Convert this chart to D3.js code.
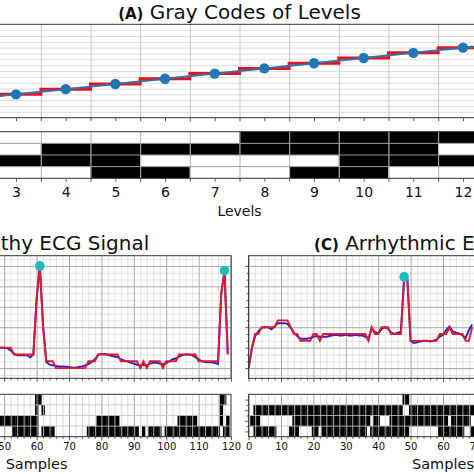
<!DOCTYPE html>
<html>
<head>
<meta charset="utf-8">
<script src="https://cdn.jsdelivr.net/npm/d3@7"></script>
<style>
  body { margin: 0; background: #fff; }
  text { font-family: "DejaVu Sans", sans-serif; }
</style>
</head>
<body>
<script>
// ---- data ----
const levels = [0, 1, 2, 3, 4, 5, 6, 7, 8, 9, 10, 11, 12, 13, 14, 15];
const grayCodes = ["0000", "0001", "0011", "0010", "0110", "0111", "0101", "0100",
                   "1100", "1101", "1111", "1110", "1010", "1011", "1001", "1000"];
const levelGrid = [-0.375, 0.75, 1.875, 3, 4.125, 5.25, 6.375, 7.5, 8.625, 9.75,
                   10.875, 12, 13.125, 14.25, 15.375];

// healthy ECG (samples 48..119 visible)
const healthyStart = 48;
const healthyLevels = [3, 3, 3, 3, 3,
  2, 2, 2, 2, 2, 2, 2,
  10, 15, 6,
  1, 1, 1,
  0, 0, 0, 0, 0, 0, 0, 0, 0, 0,
  1, 1, 1,
  2, 2, 2, 2, 2, 2, 2,
  1, 1, 1, 1, 1, 1,
  0, 1, 0,
  1, 1, 1, 1,
  0,
  1, 1, 1, 1,
  2, 2, 2, 2, 2, 2,
  1, 1, 1, 1, 1, 1, 1,
  11, 14, 2];
const healthySignal = [2.9, 3.0, 3.0, 2.9, 2.6,
  2.1, 1.9, 1.9, 1.9, 1.9, 1.6, 2.0,
  10.2, 15.0, 6.2,
  0.9, 0.5, 0.4,
  0.3, 0.25, 0.25, 0.2, 0.15, 0.05, 0.05, 0.15, 0.25, 0.4,
  0.6, 0.9, 1.3,
  1.95, 2.05, 2.05, 1.95, 1.8, 1.7, 1.6,
  1.3, 1.1, 1.0, 0.8, 0.65, 0.5,
  0.4, 0.5, 0.4,
  0.65, 0.8, 0.8, 0.65,
  0.55,
  0.75, 1.0, 1.3, 1.4,
  1.7, 1.9, 2.0, 2.0, 1.9, 1.6,
  1.3, 1.0, 0.9, 0.85, 0.85, 0.75, 0.6,
  11.0, 14.3, 2.1];
const healthyPeaks = [61, 118];

// arrhythmic ECG (samples 0..69 visible)
const arrhythStart = 0;
const arrhythLevels = [0, 3, 5, 5, 6, 6, 6, 6, 6, 7, 7, 7, 7, 6, 5, 5, 4, 4, 4, 4, 5, 5, 4,
  5, 5, 5, 5, 5, 5, 5, 5, 5, 5, 5, 5, 5, 5,
  4, 6, 5, 5, 6, 6, 6, 5, 5, 5, 5, 13, 13,
  4, 4, 4, 4, 4, 4, 4, 4, 4,
  5, 5, 5, 6, 5, 5, 5, 5, 4, 4, 6];
const arrhythSignal = [0.0, 2.8, 4.7, 5.4, 5.9, 6.0, 6.0, 5.7, 6.1, 6.6, 6.6, 6.6, 6.5, 5.9, 5.2, 4.7,
  4.3, 4.3, 4.3, 4.4, 4.6, 4.7, 4.6,
  4.6, 4.6, 4.7, 4.8, 4.9, 4.8, 4.8, 4.9, 4.8, 4.8, 4.9, 4.8, 4.8, 4.6,
  4.4, 5.8, 5.3, 5.1, 5.7, 6.0, 5.8, 5.2, 5.0, 5.2, 5.3, 13.4, 13.0,
  4.0, 3.7, 3.8, 3.9, 4.0, 4.0, 3.9, 4.0, 4.2,
  4.6, 4.9, 5.6, 6.1, 5.4, 5.2, 5.1, 4.8, 4.4, 5.6, 6.4];
const arrhythPeaks = [48];

const sampleMajor = [0, 10, 20, 30, 40, 50, 60, 70, 80, 90, 100, 110, 120];
const levelMajor = [0, 3, 6, 9, 12, 15];

// ---- setup ----
const width = 474, height = 474;
const svg = d3.select("body").append("svg")
  .attr("width", width).attr("height", height);

const frameColor = "#333";
const redC = "#e3182b";
const blueC = "#2424d0";

// label only ticks whose centre lands in (or just at the edge of) the window
const inView = (scale) => (v) => scale(v) >= -8 && scale(v) <= width + 8;

function title(x, y, tag, rest) {
  const t = svg.append("text").attr("x", x).attr("y", y)
    .attr("text-anchor", "middle").attr("fill", "#111");
  t.append("tspan").attr("font-weight", "bold").attr("font-size", 15).text(tag);
  t.append("tspan").attr("font-size", 20).text(" " + rest);
}

function frame(g, x0, x1, y0, y1) {
  g.append("rect").attr("x", x0).attr("y", y0)
    .attr("width", x1 - x0).attr("height", y1 - y0)
    .attr("fill", "none").attr("stroke", frameColor).attr("stroke-width", 1);
}

function tickMarks(g, axis, transform) {
  const a = g.append("g").attr("transform", transform).call(axis);
  a.select(".domain").remove();
  a.selectAll(".tick line").attr("stroke", frameColor).attr("stroke-width", 0.8);
  return a;
}

function gridLines(g, axis, transform, color, w) {
  const a = g.append("g").attr("transform", transform).call(axis);
  a.select(".domain").remove();
  a.selectAll(".tick line").attr("stroke", color).attr("stroke-width", w);
  a.selectAll("text").remove();
}

// ---- panel A ----
const xA = d3.scaleLinear().domain([-0.5, 15.5]).range([-157.8, 636.8]);
const yA = d3.scaleLinear().domain([-1.5, 16.5]).range([117.7, 24.3]);
const halfLevels = levels.map(l => l - 0.5).concat([15.5]);
const gA = svg.append("g");

gridLines(gA, d3.axisLeft(yA).tickValues(levelGrid).tickSize(-(xA.range()[1] - xA.range()[0])),
  `translate(${xA.range()[0]},0)`, "#dedede", 1);
gridLines(gA, d3.axisBottom(xA).tickValues(halfLevels).tickSize(-(117.7 - 24.3)),
  "translate(0,117.7)", "#c4c4c4", 1);

gA.append("path").datum(levels)
  .attr("d", d3.line().x(d => xA(d)).y(d => yA(d)).curve(d3.curveStep))
  .attr("fill", "none").attr("stroke", "#e8121c").attr("stroke-width", 3);
gA.append("path").datum(levels)
  .attr("d", d3.line().x(d => xA(d)).y(d => yA(d)))
  .attr("fill", "none").attr("stroke", "#3a6fa8").attr("stroke-width", 2);
gA.selectAll("circle.lvl").data(levels).join("circle")
  .attr("class", "lvl")
  .attr("cx", d => xA(d)).attr("cy", d => yA(d)).attr("r", 5.2)
  .attr("fill", "#1f77b4");

frame(gA, xA.range()[0], xA.range()[1], 24.3, 117.7);
tickMarks(gA, d3.axisBottom(xA).tickValues(levels.concat(halfLevels)).tickSize(3.5).tickFormat(""),
  "translate(0,117.7)");

// gray code table
const bitRows = [0, 1, 2, 3];
const yBitsA = d3.scaleBand().domain(bitRows).range([131.7, 178.3]);
const cellsA = [];
levels.forEach(l => bitRows.forEach(r => cellsA.push({ x: l, r: r, on: grayCodes[l][r] === "1" })));
gA.selectAll("rect.cellA").data(cellsA).join("rect")
  .attr("class", "cellA")
  .attr("x", d => xA(d.x - 0.5)).attr("width", d => xA(d.x + 0.5) - xA(d.x - 0.5))
  .attr("y", d => yBitsA(d.r)).attr("height", yBitsA.bandwidth())
  .attr("fill", d => d.on ? "#000" : "#fff");
gridLines(gA, d3.axisBottom(xA).tickValues(halfLevels).tickSize(-(178.3 - 131.7)),
  "translate(0,178.3)", "#b4b4b4", 1);
gA.selectAll("line.rowA").data([1, 2, 3]).join("line")
  .attr("class", "rowA")
  .attr("x1", xA.range()[0]).attr("x2", xA.range()[1])
  .attr("y1", d => yBitsA(d)).attr("y2", d => yBitsA(d))
  .attr("stroke", "#9a9a9a").attr("stroke-width", 1);
frame(gA, xA.range()[0], xA.range()[1], 131.7, 178.3);
tickMarks(gA, d3.axisBottom(xA).tickValues(levels.concat(halfLevels)).tickSize(3.5).tickFormat(""),
  "translate(0,178.3)");
const axA = tickMarks(gA, d3.axisBottom(xA).tickValues(levels.filter(inView(xA)))
  .tickSize(0).tickPadding(8.5), "translate(0,178.3)");
axA.selectAll("text").attr("font-size", 14).attr("fill", "#111")
  .attr("font-family", "DejaVu Sans, sans-serif");

svg.append("text").attr("x", xA(7.5)).attr("y", 215.5)
  .attr("text-anchor", "middle").attr("font-size", 14).attr("fill", "#111").text("Levels");
title(xA(7.5), 18.5, "(A)", "Gray Codes of Levels");

// ---- panels B and C ----
const yE = d3.scaleLinear().domain([-1.5, 16.5]).range([378.3, 255.7]);
const yBits = d3.scaleBand().domain(bitRows).range([394.3, 436.7]);
const sampleMinor = d3.range(0, 121, 2).filter(s => s % 10 !== 0);
const levelMinor = d3.range(-1, 17).filter(l => levelMajor.indexOf(l) < 0);

function ecgPanel(id, x, start, qLevels, signal, peaks, leftAxis) {
  const g = svg.append("g");
  const x0 = x(0), x1 = x(120);
  const w = x1 - x0;
  const clip = g.append("clipPath").attr("id", "clip" + id);
  clip.append("rect").attr("x", x0).attr("y", 255.7).attr("width", w).attr("height", 122.6);
  const clipB = g.append("clipPath").attr("id", "clipb" + id);
  clipB.append("rect").attr("x", x0).attr("y", 394.3).attr("width", w).attr("height", 42.4);

  // ECG grid
  const ecgH = 378.3 - 255.7;
  gridLines(g, d3.axisBottom(x).tickValues(sampleMinor).tickSize(-ecgH), "translate(0,378.3)", "#dcdcdc", 0.8);
  gridLines(g, d3.axisLeft(yE).tickValues(levelMinor).tickSize(-w), `translate(${x0},0)`, "#dcdcdc", 0.8);
  gridLines(g, d3.axisBottom(x).tickValues(sampleMajor).tickSize(-ecgH), "translate(0,378.3)", "#a8a8a8", 1);
  gridLines(g, d3.axisLeft(yE).tickValues(levelMajor).tickSize(-w), `translate(${x0},0)`, "#a8a8a8", 1);

  const pts = signal.map((v, i) => ({ s: start + i, v: v, q: qLevels[i] }));
  const lines = g.append("g").attr("clip-path", `url(#clip${id})`);
  lines.append("path").datum(pts)
    .attr("d", d3.line().x(d => x(d.s)).y(d => yE(d.v)))
    .attr("fill", "none").attr("stroke", blueC).attr("stroke-width", 2);
  lines.append("path").datum(pts)
    .attr("d", d3.line().x(d => x(d.s)).y(d => yE(d.q)))
    .attr("fill", "none").attr("stroke", redC).attr("stroke-width", 1.9);
  lines.selectAll("circle").data(pts.filter(d => peaks.indexOf(d.s) >= 0)).join("circle")
    .attr("cx", d => x(d.s)).attr("cy", d => yE(d.v)).attr("r", 4.8)
    .attr("fill", "#1cbcbc");

  frame(g, x0, x1, 255.7, 378.3);
  tickMarks(g, d3.axisBottom(x).tickValues(sampleMinor).tickSize(2).tickFormat(""), "translate(0,378.3)");
  tickMarks(g, d3.axisBottom(x).tickValues(sampleMajor).tickSize(3.5).tickFormat(""), "translate(0,378.3)");
  if (leftAxis) {
    tickMarks(g, d3.axisLeft(yE).tickValues(d3.range(0, 16).filter(l => l % 3)).tickSize(2).tickFormat(""),
      `translate(${x0},0)`);
    tickMarks(g, d3.axisLeft(yE).tickValues(levelMajor).tickSize(3.5).tickFormat(""),
      `translate(${x0},0)`);
  }

  // bit table
  const cells = [];
  pts.forEach(d => bitRows.forEach(r => cells.push({ s: d.s, r: r, on: grayCodes[d.q][r] === "1" })));
  const cg = g.append("g").attr("clip-path", `url(#clipb${id})`);
  cg.append("rect").attr("x", x0).attr("y", 394.3).attr("width", w).attr("height", 42.4).attr("fill", "#fff");
  cg.selectAll("rect.cell").data(cells.filter(c => c.on)).join("rect")
    .attr("class", "cell")
    .attr("x", d => x(d.s - 0.5)).attr("width", d => x(d.s + 0.5) - x(d.s - 0.5) + 0.2)
    .attr("y", d => yBits(d.r)).attr("height", yBits.bandwidth() + 0.2)
    .attr("fill", "#000");
  const bitH = 436.7 - 394.3;
  gridLines(cg, d3.axisBottom(x).tickValues(sampleMinor).tickSize(-bitH), "translate(0,436.7)", "#d0d0d0", 0.8);
  gridLines(cg, d3.axisBottom(x).tickValues(sampleMajor).tickSize(-bitH), "translate(0,436.7)", "#a0a0a0", 1);
  cg.selectAll("line.row").data([1, 2, 3]).join("line")
    .attr("class", "row")
    .attr("x1", x0).attr("x2", x1)
    .attr("y1", d => yBits(d)).attr("y2", d => yBits(d))
    .attr("stroke", "#c0c0c0").attr("stroke-width", 0.8);
  frame(g, x0, x1, 394.3, 436.7);
  if (leftAxis) {
    tickMarks(g, d3.axisLeft(d3.scaleLinear().domain([0, 4]).range([394.3, 436.7]))
      .tickValues([1, 2, 3]).tickSize(2).tickFormat(""), `translate(${x0},0)`);
    tickMarks(g, d3.axisLeft(d3.scaleLinear().domain([0, 4]).range([394.3, 436.7]))
      .tickValues([0.5, 1.5, 2.5, 3.5]).tickSize(3.5).tickFormat(""), `translate(${x0},0)`);
  }
  tickMarks(g, d3.axisBottom(x).tickValues(sampleMinor).tickSize(2).tickFormat(""), "translate(0,436.7)");
  tickMarks(g, d3.axisBottom(x).tickValues(sampleMajor).tickSize(3.5).tickFormat(""), "translate(0,436.7)");
  const ax = tickMarks(g, d3.axisBottom(x).tickValues(sampleMajor.filter(inView(x)))
    .tickSize(0).tickPadding(6.5), "translate(0,436.7)");
  ax.selectAll("text").attr("font-size", 10).attr("fill", "#111")
    .attr("font-family", "DejaVu Sans, sans-serif");

  svg.append("text").attr("x", x(60)).attr("y", 469)
    .attr("text-anchor", "middle").attr("font-size", 14.5).attr("fill", "#111").text("Samples");
}

const xB = d3.scaleLinear().domain([0, 120]).range([-157.8, 231]);
const xC = d3.scaleLinear().domain([0, 120]).range([248.6, 637.4]);
ecgPanel("B", xB, healthyStart, healthyLevels, healthySignal, healthyPeaks, false);
ecgPanel("C", xC, arrhythStart, arrhythLevels, arrhythSignal, arrhythPeaks, true);
title(xB(60), 250, "(B)", "Healthy ECG Signal");
title(xC(60), 250, "(C)", "Arrhythmic ECG Signal");
</script>
</body>
</html>
